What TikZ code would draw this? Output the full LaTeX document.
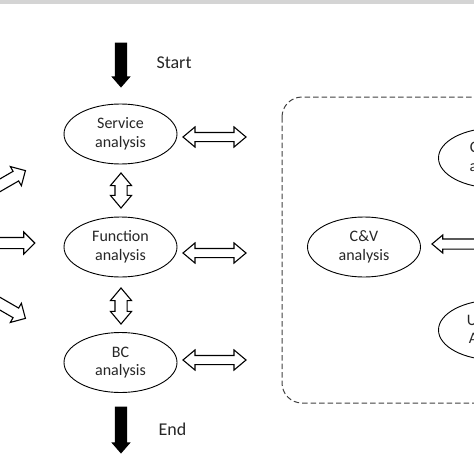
\documentclass[tikz,border=0pt]{standalone}
\usepackage{fontspec}
\setmainfont{Carlito}
\usetikzlibrary{shapes.geometric,shapes.arrows,positioning}

\begin{document}
\begin{tikzpicture}[x=1pt,y=-1pt,
  phase/.style={draw,ellipse,line width=0.9pt,minimum width=113pt,minimum height=60pt,inner sep=0pt,align=center,text=black!85,font=\fontsize{16}{18.5}\selectfont},
  link/.style={draw,double arrow,line width=1.1pt,fill=white,inner xsep=0pt,inner ysep=4pt,double arrow head extend=5.5pt,double arrow tip angle=80},
  feed/.style={draw,single arrow,line width=1.1pt,fill=white,inner xsep=0pt,inner ysep=5pt,single arrow head extend=5.5pt,single arrow tip angle=90,minimum height=40pt},
  flow/.style={fill=black,single arrow,inner xsep=0pt,inner ysep=6pt,single arrow head extend=3.5pt,single arrow tip angle=82,rotate=-90},
  caption/.style={text=black!85,font=\fontsize{18}{20}\selectfont}]

  % fix the frame and cut off what runs past it
  \useasboundingbox (0,0) rectangle (474,474);
  \clip (0,0) rectangle (474,474);

  % thin grey strip along the top edge
  \fill[black!17] (0,0) rectangle (474,3.5);

  % dashed box on the right, running out of the frame
  \draw[black!75,line width=1pt,dash pattern=on 5.5pt off 3pt,rounded corners=20pt] (282,97) rectangle (540,403);

  % the three phases in the middle column
  \node[phase] (svc) at (120.5,134) {Service\\analysis};
  \node[phase] (fun) at (120.5,247) {Function\\analysis};
  \node[phase] (bc) at (120.5,362.5) {BC\\analysis};

  % the phases inside the dashed box
  \node[phase] (cv) at (364,247) {C\&V\\analysis};
  \node[phase] (ctx) at (495,158) {Context\\analysis};
  \node[phase] (usa) at (495,330) {Usability\\Analysis};

  % start and end of the flow
  \node[flow,minimum height=45pt] (start) at (121,61.5) {};
  \node[caption,anchor=west] (starttxt) at (153,63) {Start};
  \node[flow,minimum height=47pt] (end) at (121,426.5) {};
  \node[caption,anchor=west] (endtxt) at (155,429) {End};

  % links between the phases
  \node[link,minimum height=35pt,inner ysep=5.5pt,double arrow head extend=4.5pt,rotate=90] (svcfun) at (121,190.5) {};
  \node[link,minimum height=36pt,inner ysep=5.5pt,double arrow head extend=4.5pt,rotate=90] (funbc) at (121,306) {};

  % links from the phases to the dashed box
  \node[link,minimum height=63pt] (svcbox) at (214.5,137) {};
  \node[link,minimum height=63pt] (funbox) at (214.5,253) {};
  \node[link,minimum height=63pt] (bcbox) at (214.5,360) {};

  % inputs coming in from the left
  \node[feed,rotate=30] (inup) at (5.7,182) {};
  \node[feed] (inmid) at (12,243) {};
  \node[feed,rotate=-30] (indown) at (5.7,307) {};

  % input to C&V from the right
  \node[feed,inner ysep=4.5pt,single arrow head extend=4pt,single arrow tip angle=80,minimum height=60pt,shape border rotate=180] (incv) at (465,244) {};
\end{tikzpicture}
\end{document}
